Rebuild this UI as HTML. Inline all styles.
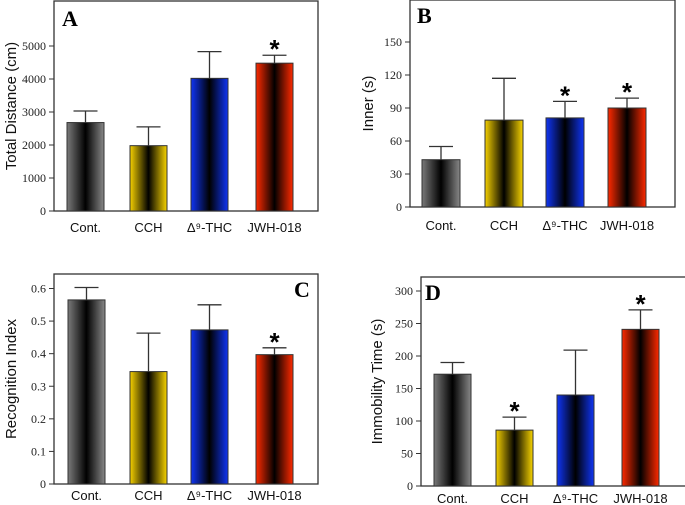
<!DOCTYPE html>
<html><head><meta charset="utf-8"><style>
body{margin:0;background:#fff;}
svg{display:block;}
.tk{font-family:"Liberation Serif",serif;font-size:12px;fill:#222;}
.xl{font-family:"Liberation Sans",sans-serif;font-size:13px;fill:#111;}
.yt{font-family:"Liberation Sans",sans-serif;font-size:15px;fill:#111;}
.pl{font-family:"Liberation Serif",serif;font-size:22px;font-weight:bold;fill:#000;}
.st{font-family:"Liberation Sans",sans-serif;font-size:26px;font-weight:bold;fill:#000;}
</style></head><body>
<svg id="fig" width="685" height="505" xmlns="http://www.w3.org/2000/svg">
<defs>
<linearGradient id="g0" x1="0" x2="1"><stop offset="0" stop-color="#7a7a7a"/><stop offset="0.5" stop-color="#000"/><stop offset="1" stop-color="#888"/></linearGradient>
<linearGradient id="g1" x1="0" x2="1"><stop offset="0" stop-color="#f5d000"/><stop offset="0.5" stop-color="#000"/><stop offset="1" stop-color="#f8d400"/></linearGradient>
<linearGradient id="g2" x1="0" x2="1"><stop offset="0" stop-color="#1035f5"/><stop offset="0.5" stop-color="#000"/><stop offset="1" stop-color="#1035f5"/></linearGradient>
<linearGradient id="g3" x1="0" x2="1"><stop offset="0" stop-color="#ff2a00"/><stop offset="0.5" stop-color="#000"/><stop offset="1" stop-color="#ff2a00"/></linearGradient>
</defs>
</svg>
<script>
const categories = ["Cont.", "CCH", "\u0394\u2079-THC", "JWH-018"];
const aValues = [2680, 1980, 4020, 4480];
const aErrors = [3030, 2550, 4830, 4720];
const aSig = [false, false, false, true];
const aTicks = [0, 1000, 2000, 3000, 4000, 5000];
const bValues = [43, 79, 81, 90];
const bErrors = [55, 117, 96, 99];
const bSig = [false, false, true, true];
const bTicks = [0, 30, 60, 90, 120, 150];
const cValues = [0.565, 0.345, 0.473, 0.397];
const cErrors = [0.603, 0.463, 0.55, 0.418];
const cSig = [false, false, false, true];
const cTicks = [0, 0.1, 0.2, 0.3, 0.4, 0.5, 0.6];
const dValues = [172, 86, 140, 241];
const dErrors = [190, 106, 209, 271];
const dSig = [false, true, false, true];
const dTicks = [0, 50, 100, 150, 200, 250, 300];

const NS = "http://www.w3.org/2000/svg";
const fig = document.getElementById("fig");
function mk(tag, attrs, parent, text) {
  const e = document.createElementNS(NS, tag);
  for (const k in attrs) e.setAttribute(k, attrs[k]);
  if (text !== undefined) e.textContent = text;
  parent.appendChild(e);
  return e;
}
function panel(p) {
  const g = mk("g", {}, fig);
  
  
  const y = v => p.y0 - (v - p.vmin) / (p.vtop - p.vmin) * (p.y0 - p.ytop);
  const fr = mk("rect", {x: p.L, y: p.T, width: p.R - p.L, height: p.B - p.T, fill: "none", stroke: "#333", "stroke-width": 1.3}, g);
  
  
  p.ticks.forEach(t => {
    const ty = y(t);
    const tl = mk("line", {x1: p.L - 5, x2: p.L, y1: ty, y2: ty, stroke: "#333"}, g);
    
    
    const tx = mk("text", {x: p.L - 8, y: ty + 4, "text-anchor": "end", class: "tk"}, g, String(t));
    
    
  });
  categories.forEach((c, i) => {
    const x0 = p.bx[i], w = p.bw, top = y(p.vals[i]), et = y(p.errs[i]), cx = x0 + w / 2;
    const el = mk("line", {x1: cx, x2: cx, y1: top, y2: et, stroke: "#333", "stroke-width": 1.3}, g);
    
    
    const ec = mk("line", {x1: cx - 12, x2: cx + 12, y1: et, y2: et, stroke: "#333", "stroke-width": 1.3}, g);
    
    
    const r = mk("rect", {x: x0, y: top, width: w, height: p.y0 - top, fill: "url(#g" + i + ")", stroke: "#333", "stroke-width": 1}, g);
    
    
    if (p.sig[i]) {
      const s = mk("text", {x: cx, y: et + 3, "text-anchor": "middle", class: "st"}, g, "*");
      
      
    }
    const xl = mk("text", {x: cx, y: p.xly, "text-anchor": "middle", class: "xl"}, g, c);
    
    
  });
  const yt = mk("text", {x: p.ytx, y: (p.T + p.B) / 2, "text-anchor": "middle", class: "yt", transform: "rotate(-90 " + p.ytx + " " + (p.T + p.B) / 2 + ")"}, g, p.title);
  
  
  const pl = mk("text", {x: p.plx, y: p.ply, class: "pl"}, g, p.id);
  
  
}
panel({id: "A", L: 54, T: 1, R: 318, B: 211, y0: 211, ytop: 46, vmin: 0, vtop: 5000, ticks: aTicks, vals: aValues, errs: aErrors, sig: aSig,
  bx: [67, 130, 191, 256], bw: 37, xly: 232, ytx: 16, title: "Total Distance (cm)", plx: 62, ply: 26});
panel({id: "B", L: 410, T: 0, R: 675, B: 207, y0: 207, ytop: 42, vmin: 0, vtop: 150, ticks: bTicks, vals: bValues, errs: bErrors, sig: bSig,
  bx: [422, 485, 546, 608], bw: 38, xly: 230, ytx: 373, title: "Inner (s)", plx: 417, ply: 23});
panel({id: "C", L: 54, T: 274, R: 318, B: 484, y0: 484, ytop: 288.5, vmin: 0, vtop: 0.6, ticks: cTicks, vals: cValues, errs: cErrors, sig: cSig,
  bx: [68, 130, 191, 256], bw: 37, xly: 500, ytx: 16, title: "Recognition Index", plx: 294, ply: 297});
panel({id: "D", L: 421, T: 277, R: 686, B: 486, y0: 486, ytop: 291, vmin: 0, vtop: 300, ticks: dTicks, vals: dValues, errs: dErrors, sig: dSig,
  bx: [434, 496, 557, 622], bw: 37, xly: 503, ytx: 382, title: "Immobility Time (s)", plx: 425, ply: 300});
</script>
</body></html>
